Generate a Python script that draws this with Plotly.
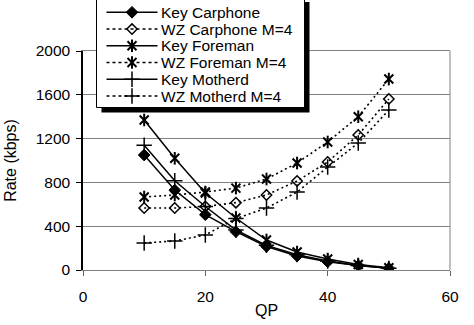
import plotly.graph_objects as go

# ---------------- data ----------------
qp = [10, 15, 20, 25, 30, 35, 40, 45, 50]
key_carphone = [1050, 730, 505, 350, 215, 128, 75, 40, 15]
wz_carphone = [566, 566, 580, 615, 685, 813, 986, 1233, 1562]
key_foreman = [1370, 1020, 703, 475, 274, 164, 100, 50, 20]
wz_foreman = [667, 685, 712, 748, 831, 977, 1169, 1400, 1744]
key_motherd = [1140, 815, 580, 365, 225, 140, 82, 42, 15]
wz_motherd = [247, 265, 320, 470, 566, 712, 940, 1160, 1461]

series_names = ["Key Carphone", "WZ Carphone M=4", "Key Foreman",
                "WZ Foreman M=4", "Key Motherd", "WZ Motherd M=4"]
series_values = [key_carphone, wz_carphone, key_foreman,
                 wz_foreman, key_motherd, wz_motherd]
x_ticks = [0, 20, 40, 60]
y_ticks = [0, 400, 800, 1200, 1600, 2000]

# ---------------- styles ----------------
FONT = "Arial, Liberation Sans, sans-serif"
FS = 15.5
DOT = "2px,3px"
styles = [
    dict(dash="solid", symbols=["diamond"], size=9, lw=1),
    dict(dash=DOT, symbols=["diamond-open"], size=8, lw=1.5),
    dict(dash="solid", symbols=["x-thin-open", "line-ns-open"], size=9, lw=2),
    dict(dash=DOT, symbols=["x-thin-open", "line-ns-open"], size=9, lw=2),
    dict(dash="solid", symbols=["cross-thin-open"], size=11, lw=1.5),
    dict(dash=DOT, symbols=["cross-thin-open"], size=11, lw=1.5),
]

W, H = 474, 325
ML, MR, MT, MB = 83, 24, 0, 55
PLOT_TOP = 51  # pixel row of y=2000

fig = go.Figure()

for name, vals, st in zip(series_names, series_values, styles):
    fig.add_trace(go.Scatter(
        x=qp, y=vals, name=name, mode="lines+markers",
        line=dict(color="black", width=1.5 if st["dash"] == "solid" else 1.6,
                  dash=st["dash"]),
        marker=dict(symbol=st["symbols"][0], size=st["size"], color="black",
                    line=dict(color="black", width=st["lw"])),
        showlegend=False, xaxis="x", yaxis="y"))
    for extra in st["symbols"][1:]:
        fig.add_trace(go.Scatter(
            x=qp, y=vals, mode="markers", showlegend=False,
            marker=dict(symbol=extra, size=st["size"], color="black",
                        line=dict(color="black", width=st["lw"])),
            xaxis="x", yaxis="y"))

# ---------------- hand-built legend on an overlay subplot (pixel coords) ----
box_l, box_r, box_t, box_b = 96.5, 304.5, -3, 107.5
shadow = 5
fig.add_trace(go.Scatter(
    x=[box_l + shadow, box_r + shadow, box_r + shadow, box_l + shadow, box_l + shadow],
    y=[box_t + shadow, box_t + shadow, box_b + shadow, box_b + shadow, box_t + shadow],
    fill="toself", fillcolor="black", mode="lines", line=dict(width=0, color="black"),
    showlegend=False, hoverinfo="skip", xaxis="x2", yaxis="y2"))
fig.add_trace(go.Scatter(
    x=[box_l, box_r, box_r, box_l, box_l],
    y=[box_t, box_t, box_b, box_b, box_t],
    fill="toself", fillcolor="white", mode="lines", line=dict(width=1, color="black"),
    showlegend=False, hoverinfo="skip", xaxis="x2", yaxis="y2"))

row0, row_gap = 12.3, 16.75
ln_x0, ln_x1, mk_x, tx_x = 106.5, 157.5, 132, 159
annotations = []
for i, (name, st) in enumerate(zip(series_names, styles)):
    yc = row0 + i * row_gap
    fig.add_trace(go.Scatter(
        x=[ln_x0, ln_x1], y=[yc, yc], mode="lines",
        line=dict(color="black", width=1.5, dash=st["dash"] if st["dash"] == "solid" else "3px,3px"),
        showlegend=False, hoverinfo="skip", xaxis="x2", yaxis="y2"))
    for sym in st["symbols"]:
        fig.add_trace(go.Scatter(
            x=[mk_x], y=[yc], mode="markers",
            marker=dict(symbol=sym, size=st["size"], color="black",
                        line=dict(color="black", width=st["lw"])),
            showlegend=False, hoverinfo="skip", xaxis="x2", yaxis="y2"))
    annotations.append(dict(
        x=tx_x, y=yc, xref="x2", yref="y2", text=name, showarrow=False,
        xanchor="left", yanchor="middle", font=dict(family=FONT, size=FS, color="black")))

plot_h = H - MT - MB
fig.update_layout(
    width=W, height=H,
    margin=dict(l=ML, r=MR, t=MT, b=MB, autoexpand=False),
    paper_bgcolor="white", plot_bgcolor="rgba(0,0,0,0)",
    font=dict(family=FONT, size=FS, color="black"),
    showlegend=False,
    annotations=annotations,
    xaxis=dict(domain=[0, 1], range=[0, 60], tickvals=x_ticks,
               ticks="outside", ticklen=5, tickcolor="#606060", tickwidth=1,
               showline=True, linecolor="#808080", linewidth=1, mirror=True,
               showgrid=False, zeroline=False,
               tickfont=dict(size=FS), ticklabelstandoff=7,
               title=dict(text="QP", font=dict(size=16), standoff=1),
               anchor="y"),
    yaxis=dict(domain=[0, (H - MB - PLOT_TOP) / plot_h], range=[0, 2000],
               tickvals=y_ticks, ticks="outside", ticklen=5, tickcolor="black",
               showline=True, linecolor="black", linewidth=1.5,
               showgrid=True, gridcolor="#808080", gridwidth=1, zeroline=False,
               tickfont=dict(size=FS), ticklabelstandoff=3,
               title=dict(text="Rate (kbps)", font=dict(size=16), standoff=15),
               anchor="x"),
    xaxis2=dict(domain=[0, 1], range=[ML, W - MR], visible=False,
                anchor="y2", fixedrange=True),
    yaxis2=dict(domain=[0, 1], range=[H - MB, MT], visible=False,
                anchor="x2", fixedrange=True),
    shapes=[dict(type="line", xref="x domain", yref="y", x0=1, x1=1, y0=0, y1=2000,
                 line=dict(color="#808080", width=1))],
)

fig.write_html("out.html")
